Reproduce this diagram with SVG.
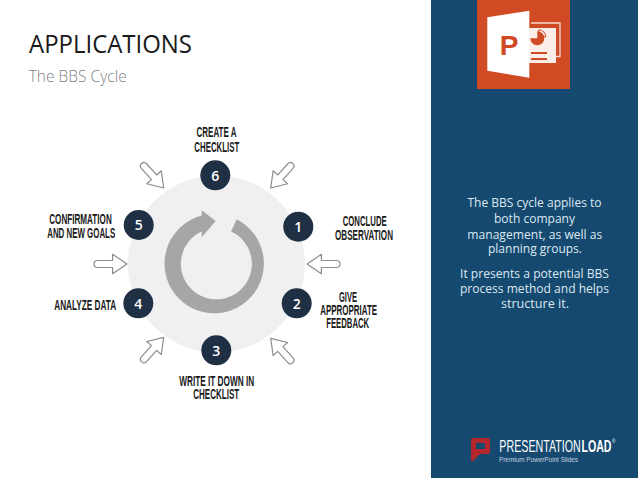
<svg xmlns="http://www.w3.org/2000/svg" width="638" height="479" viewBox="0 0 638 479">
<style>
text{font-family:"Liberation Sans","Open Sans",sans-serif}
.l{font-size:14px;font-weight:700;fill:#1a1a1a;text-anchor:middle}
.n{fill:#1f3044}
.t{font-family:"Open Sans","Liberation Sans",sans-serif;font-size:14px;font-weight:600;fill:#fff;text-anchor:middle}
.p{font-family:"Open Sans","Liberation Sans",sans-serif;font-size:13px;fill:#dce8f1;text-anchor:middle}
.a{fill:#fff;stroke:#8c8c8c;stroke-width:1.2;stroke-linejoin:round}
</style>
<defs>
<path id="ar" d="M0 0L14.4-9.7V-3.5H29.5A3.5 3.5 0 0 1 29.5 3.500H14.4V9.700Z"/>
</defs>
<rect width="638" height="479" fill="#fff"/>
<g id="header">
<text x="29" y="52.700" font-family="Open Sans" style="font-family:'Open Sans',sans-serif" font-size="24.700" fill="#1a1a1a" textLength="163" lengthAdjust="spacingAndGlyphs">APPLICATIONS</text>
<text x="28.700" y="82.300" style="font-family:'Open Sans',sans-serif;font-weight:300" font-size="17" fill="#7f7f7f" textLength="98" lengthAdjust="spacingAndGlyphs">The BBS Cycle</text>
</g>
<g id="panel">
<rect x="431" y="0" width="207" height="478" fill="#15496f"/>
<rect x="477" y="0" width="93" height="89" fill="#d04a23"/>
<path d="M531 23H560V56.500H556" fill="none" stroke="#f3d8cf" stroke-width="1.300"/>
<rect x="529" y="28" width="27" height="35" fill="#fbeee9"/>
<path d="M537.300 38.300V31.300A7 7 0 1 1 530.300 38.300Z" fill="#d04a23"/>
<path d="M538.800 36.800V29.800A7 7 0 0 1 545.800 36.800Z" fill="none" stroke="#d04a23" stroke-width="1"/>
<path d="M531 53H547M531 59H547" stroke="#d04a23" stroke-width="1.800"/>
<path d="M487.300 17.300L529.300 10.700V77.700L487.300 70.700Z" fill="#fff"/>
<text x="509" y="55" font-size="28" font-weight="700" fill="#d04a23" text-anchor="middle">P</text>
<text class="p" x="534.500" y="207.300" textLength="134" lengthAdjust="spacingAndGlyphs">The BBS cycle applies to</text>
<text class="p" x="534.500" y="222.700" textLength="81" lengthAdjust="spacingAndGlyphs">both company</text>
<text class="p" x="534.800" y="239" textLength="135" lengthAdjust="spacingAndGlyphs">management, as well as</text>
<text class="p" x="535" y="253.300" textLength="94" lengthAdjust="spacingAndGlyphs">planning groups.</text>
<text class="p" x="534.500" y="277.700" textLength="149" lengthAdjust="spacingAndGlyphs">It presents a potential BBS</text>
<text class="p" x="534.500" y="292.700" textLength="149" lengthAdjust="spacingAndGlyphs">process method and helps</text>
<text class="p" x="535" y="308.300" textLength="68" lengthAdjust="spacingAndGlyphs">structure it.</text>
<path d="M473 438H488Q490 438 490 440V452Q490 454 488 454H480L473 461Q471 462 471 460V440Q471 438 473 438ZM476 443V449H485V443Z" fill="#b3272d" fill-rule="evenodd"/>
<text x="499.300" y="452.300" font-size="17" fill="#fff" textLength="81.500" lengthAdjust="spacingAndGlyphs">PRESENTATION</text>
<text x="581.500" y="452.300" font-size="17" font-weight="700" fill="#fff" textLength="30" lengthAdjust="spacingAndGlyphs">LOAD</text>
<text x="612" y="443" font-size="4.500" fill="#fff">®</text>
<text x="499" y="461.500" font-size="8" fill="#c5d3df" textLength="79" lengthAdjust="spacingAndGlyphs">Premium PowerPoint Slides</text>
</g>
<g id="hub">
<circle cx="216.500" cy="264" r="88.500" fill="#f0f0f0"/>
<path d="M236.700 219.300A49.700 49.700 0 1 1 201.700 215.500V210.300L215.700 221 201.700 237.300V231.500A35.500 35.500 0 1 0 231 231.500Z" fill="#a6a6a6"/>
</g>
<g id="connectors">
<use href="#ar" class="a" transform="translate(307 264)"/>
<use href="#ar" class="a" transform="translate(127 264) rotate(180)"/>
<use href="#ar" class="a" transform="translate(270.700 188) rotate(-48)"/>
<use href="#ar" class="a" transform="translate(163.700 188) rotate(228)"/>
<use href="#ar" class="a" transform="translate(163.700 337.300) rotate(132)"/>
<use href="#ar" class="a" transform="translate(270.700 338.300) rotate(48)"/>
</g>
<g id="node1"><circle class="n" cx="298.300" cy="226.700" r="15"/><text class="t" x="298.300" y="232">1</text>
<text class="l" x="364.700" y="226" textLength="44" lengthAdjust="spacingAndGlyphs">CONCLUDE</text>
<text class="l" x="364" y="240" textLength="58" lengthAdjust="spacingAndGlyphs">OBSERVATION</text></g>
<g id="node2"><circle class="n" cx="296.700" cy="303.300" r="15"/><text class="t" x="296.700" y="308.500">2</text>
<text class="l" x="348" y="301.700" textLength="18" lengthAdjust="spacingAndGlyphs">GIVE</text>
<text class="l" x="348.700" y="315" textLength="57" lengthAdjust="spacingAndGlyphs">APPROPRIATE</text>
<text class="l" x="347.700" y="328.300" textLength="43" lengthAdjust="spacingAndGlyphs">FEEDBACK</text></g>
<g id="node3"><circle class="n" cx="216.300" cy="350.300" r="15"/><text class="t" x="216.300" y="355.500">3</text>
<text class="l" x="216.700" y="385.700" textLength="75" lengthAdjust="spacingAndGlyphs">WRITE IT DOWN IN</text>
<text class="l" x="216.200" y="399.300" textLength="46" lengthAdjust="spacingAndGlyphs">CHECKLIST</text></g>
<g id="node4"><circle class="n" cx="138.300" cy="303.300" r="15"/><text class="t" x="138.300" y="308.500">4</text>
<text class="l" x="85.200" y="310" textLength="62" lengthAdjust="spacingAndGlyphs">ANALYZE DATA</text></g>
<g id="node5"><circle class="n" cx="138.700" cy="225" r="15"/><text class="t" x="138.700" y="230.200">5</text>
<text class="l" x="80.500" y="224" textLength="62.500" lengthAdjust="spacingAndGlyphs">CONFIRMATION</text>
<text class="l" x="81.200" y="238" textLength="68" lengthAdjust="spacingAndGlyphs">AND NEW GOALS</text></g>
<g id="node6"><circle class="n" cx="215.300" cy="175.300" r="15"/><text class="t" x="215.300" y="180.500">6</text>
<text class="l" x="216.500" y="137.300" textLength="40" lengthAdjust="spacingAndGlyphs">CREATE A</text>
<text class="l" x="216.800" y="152" textLength="45" lengthAdjust="spacingAndGlyphs">CHECKLIST</text></g>
</svg>
